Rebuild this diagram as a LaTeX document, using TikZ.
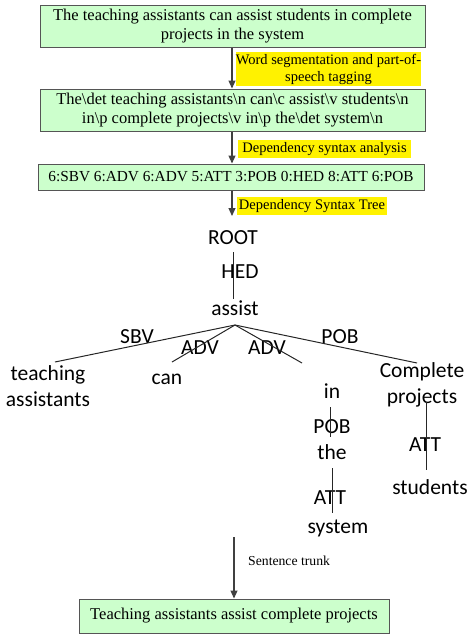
\documentclass[tikz,border=0pt]{standalone}
\usepackage{fontspec}
\setmainfont{Liberation Serif}
\newfontfamily\treefont{Carlito}
\usetikzlibrary{arrows.meta}
\definecolor{boxgreen}{RGB}{204,255,204}
\definecolor{boxline}{RGB}{85,85,85}
\definecolor{arrowgray}{RGB}{64,64,64}
\begin{document}
\begin{tikzpicture}[x=1pt,y=-1pt,
  box/.style={draw=boxline, fill=boxgreen, line width=1pt, inner sep=0pt, align=center,
    font=\fontsize{16.5}{19}\selectfont},
  lab/.style={fill=yellow, inner sep=0pt, align=center, font=\fontsize{14.5}{17}\selectfont},
  flow/.style={draw=arrowgray, line width=1.1pt, -{Triangle[length=8pt,width=7pt]}},
  tw/.style={font=\treefont\fontsize{21.5}{25.5}\selectfont, inner sep=0pt, align=center, text=black},
  tedge/.style={draw=black!85, line width=1pt}]
\useasboundingbox (0,0) rectangle (474,640);
% flow boxes
\node[box, minimum width=385, minimum height=42] (b1) at (232.5,26)
  {The teaching assistants can assist students in complete\\projects in the system};
\node[box, minimum width=385, minimum height=42] (b2) at (232.5,110)
  {The\textbackslash det teaching assistants\textbackslash n can\textbackslash c assist\textbackslash v students\textbackslash n\\in\textbackslash p complete projects\textbackslash v in\textbackslash p the\textbackslash det system\textbackslash n};
\node[box, font=\fontsize{15.3}{18}\selectfont, minimum width=386, minimum height=26] (b3) at (231,177)
  {6:SBV 6:ADV 6:ADV 5:ATT 3:POB 0:HED 8:ATT 6:POB};
\node[box, minimum width=310, minimum height=34] (b4) at (234,616)
  {Teaching assistants assist complete projects};
% labels
\node[lab, minimum width=183, minimum height=34] (l1) at (328.5,69)
  {Word segmentation and part-of-\\speech tagging};
\node[lab, minimum width=173, minimum height=18] (l2) at (324.5,149) {Dependency syntax analysis};
\node[lab, minimum width=150, minimum height=18] (l3) at (312,206) {Dependency Syntax Tree};
\node[font=\fontsize{13.7}{16}\selectfont, anchor=west, inner sep=0pt] (l4) at (248,561) {Sentence trunk};
% flow arrows
\coordinate (a3end) at (232,216);
\coordinate (trunkstart) at (234,537);
\draw[flow] (b1.south -| 232,0) -- (b2.north -| 232,0);
\draw[flow] (b2.south -| 232,0) -- (b3.north -| 232,0);
\draw[flow] (b3.south -| a3end) -- (a3end);
\draw[flow] (trunkstart) -- (b4.north -| trunkstart);
% tree nodes
\node[tw] (root) at (233,238) {ROOT};
\node[tw] (hed) at (240,272) {HED};
\node[tw] (assist) at (235,308) {assist};
\node[tw] (teach) at (48,386) {teaching\\assistants};
\node[tw] (can) at (167,379) {can};
\node[tw] (in) at (332,391) {in};
\node[tw] (compl) at (422,385) {Complete\\projects};
\node[tw] (pobb) at (332,427) {POB};
\node[tw] (the) at (332,452) {the};
\node[tw] (atta) at (330,498) {ATT};
\node[tw] (system) at (338,528) {system};
\node[tw] (attb) at (425,445) {ATT};
\node[tw] (students) at (430,487) {students};
\node[tw] (sbv) at (137,337) {SBV};
\node[tw] (adva) at (200,348) {ADV};
\node[tw] (advb) at (267,348) {ADV};
\node[tw] (poba) at (340,337) {POB};
% tree connector ends
\coordinate (hub) at (235,325);
\coordinate (eteach) at (55,362);
\coordinate (ecan) at (172,362);
\coordinate (ein) at (302,363);
\coordinate (ecompl) at (417,363);
\coordinate (rtop) at (233,252);
\coordinate (rbot) at (233,299);
\coordinate (intop) at (330,407);
\coordinate (inbot) at (330,437);
\coordinate (thetop) at (332,468);
\coordinate (thebot) at (332,513);
\coordinate (cptop) at (426,402);
\coordinate (cpbot) at (426,470);
\draw[tedge] (rtop) -- (rbot);
\draw[tedge] (hub) -- (eteach);
\draw[tedge] (hub) -- (ecan);
\draw[tedge] (hub) -- (ein);
\draw[tedge] (hub) -- (ecompl);
\draw[tedge] (intop) -- (inbot);
\draw[tedge] (thetop) -- (thebot);
\draw[tedge] (cptop) -- (cpbot);
\end{tikzpicture}
\end{document}
